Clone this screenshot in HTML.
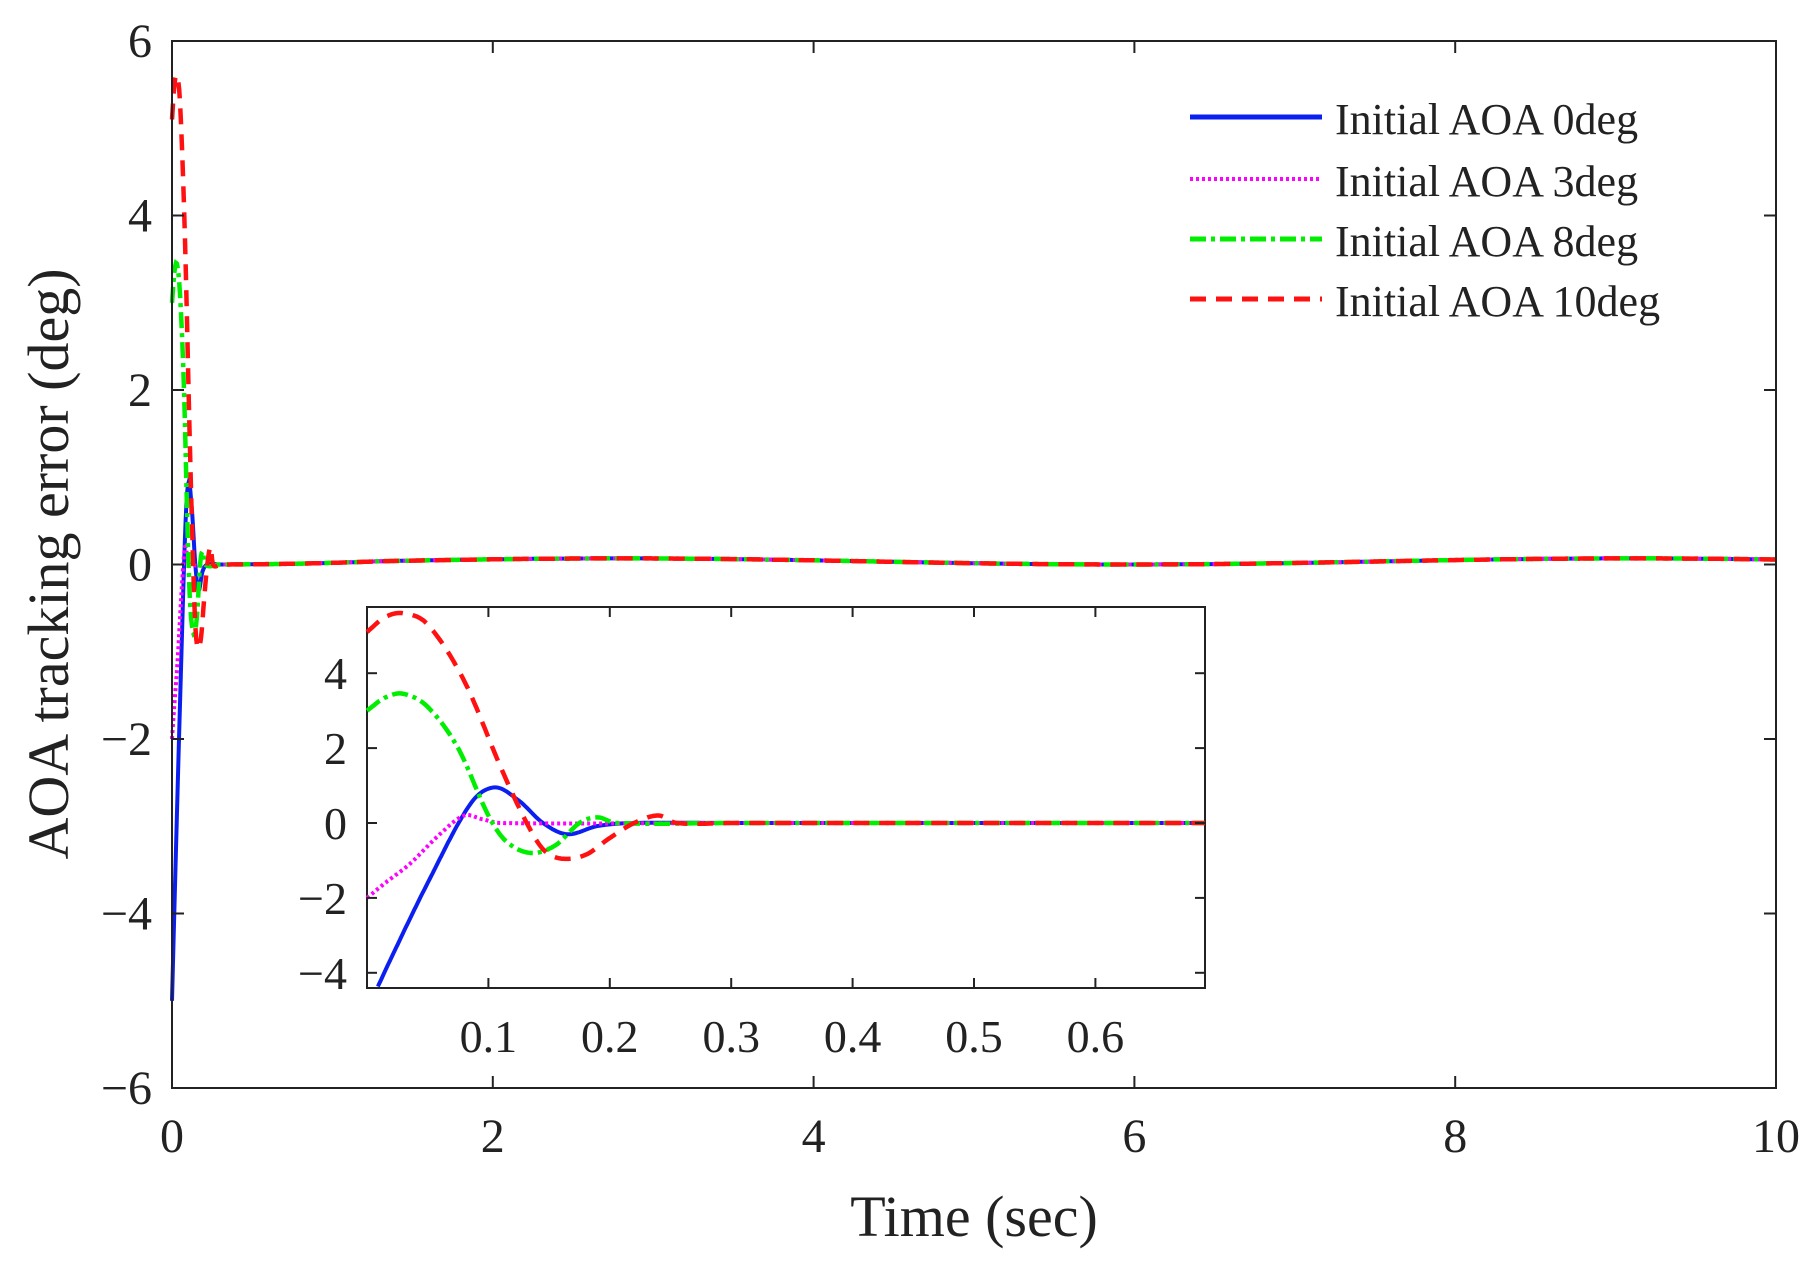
<!DOCTYPE html>
<html><head><meta charset="utf-8"><style>
html,body{margin:0;padding:0;background:#fff;}
svg{display:block;font-family:"Liberation Serif",serif;}
</style></head><body>
<svg id="s" width="1820" height="1266" viewBox="0 0 1820 1266" xmlns="http://www.w3.org/2000/svg">
<rect width="1820" height="1266" fill="#fff"/>
<g id="main"></g>
<rect x="367" y="607" width="838" height="381" fill="#fff" stroke="#222" stroke-width="2"/>
<g id="inset"></g>
<rect x="172" y="41" width="1604" height="1047" fill="none" stroke="#222" stroke-width="2"/>
<g id="ticks" fill="#222"></g>
<text x="974" y="1236" font-size="58" text-anchor="middle" fill="#222">Time (sec)</text>
<text transform="translate(68,564) rotate(-90)" font-size="58" text-anchor="middle" fill="#222">AOA tracking error (deg)</text>
<g font-size="44" fill="#222">
<line x1="1190" y1="117" x2="1322" y2="117" stroke="#0a1ff0" stroke-width="5"/>
<text x="1335" y="134">Initial AOA 0deg</text>
<line x1="1190" y1="179" x2="1322" y2="179" stroke="#f0f" stroke-width="4" stroke-dasharray="3,3"/>
<text x="1335" y="196">Initial AOA 3deg</text>
<line x1="1190" y1="239" x2="1322" y2="239" stroke="#0e0" stroke-width="5" stroke-dasharray="16,5,4,5"/>
<text x="1335" y="256">Initial AOA 8deg</text>
<line x1="1190" y1="299" x2="1322" y2="299" stroke="#f11" stroke-width="5" stroke-dasharray="16,10"/>
<text x="1335" y="316">Initial AOA 10deg</text>
</g>
</svg>
<script>
const NS="http://www.w3.org/2000/svg";
function el(p,tag,a,txt){const e=document.createElementNS(NS,tag);for(const k in a)e.setAttribute(k,a[k]);if(txt!==undefined)e.textContent=txt;document.getElementById(p).appendChild(e);return e;}
function interp(pts,t){if(t<=pts[0][0])return pts[0][1];for(let i=0;i<pts.length-1;i++){const a=pts[i],b=pts[i+1];if(t<=b[0]){const p0=pts[Math.max(0,i-1)],p3=pts[Math.min(pts.length-1,i+2)];const u=(t-a[0])/(b[0]-a[0]);const m1=(b[1]-p0[1])/(b[0]-p0[0])*(b[0]-a[0]);const m2=(p3[1]-a[1])/(p3[0]-a[0])*(b[0]-a[0]);const h00=2*u*u*u-3*u*u+1,h10=u*u*u-2*u*u+u,h01=-2*u*u*u+3*u*u,h11=u*u*u-u*u;return h00*a[1]+h10*m1+h01*b[1]+h11*m2;}}return pts[pts.length-1][1];}
const S={
b:[[0,-5],[0.02,-3.6],[0.05,-1.6],[0.085,0.5],[0.105,0.95],[0.125,0.6],[0.145,0],[0.165,-0.3],[0.19,-0.08],[0.22,0],[0.3,0]],
m:[[0,-2],[0.015,-1.6],[0.035,-1.1],[0.06,-0.3],[0.08,0.2],[0.095,0.1],[0.11,0],[0.3,0]],
g:[[0,3],[0.015,3.35],[0.03,3.45],[0.05,3.1],[0.075,2],[0.1,0.2],[0.115,-0.5],[0.135,-0.8],[0.155,-0.6],[0.175,0],[0.19,0.15],[0.205,0],[0.3,0]],
r:[[0,5.1],[0.015,5.5],[0.03,5.6],[0.05,5.3],[0.08,3.8],[0.11,1.5],[0.13,0.1],[0.145,-0.7],[0.16,-0.95],[0.18,-0.85],[0.2,-0.4],[0.22,0],[0.24,0.2],[0.255,0],[0.3,0]]};
const sty={b:{stroke:"#0a1ff0","stroke-width":4},m:{stroke:"#f0f","stroke-width":4,"stroke-dasharray":"3,3"},g:{stroke:"#0e0","stroke-width":4.5,"stroke-dasharray":"16,5,4,5"},r:{stroke:"#f11","stroke-width":4.5,"stroke-dasharray":"16,10"}};
function slow(t){return t<0.3?0:0.035*(1-Math.cos(2*Math.PI*(t+0.35)/6.3))*Math.min(1,(t-0.3)/1.0);}
const MY=v=>564.5-v*87.25;
// main
for(const k of ["b","m","g","r"]){let d="";for(let i=0;i<=2000;i++){const t=i/200;let v=t<0.3?interp(S[k],t):slow(t);const x=172+t*160.4,y=MY(v);d+=(i?"L":"M")+x.toFixed(1)+","+y.toFixed(1);}el("main","path",Object.assign({d:d,fill:"none"},sty[k]));}
// inset
for(const k of ["b","m","g","r"]){let d="";let started=false;for(let i=0;i<=690;i++){const t=i/1000;let v=interp(S[k],t);let y=823-v*37.45;if(y>988||y<607){continue;}const x=367+t*1214;d+=(started?"L":"M")+x.toFixed(1)+","+y.toFixed(1);started=true;}el("inset","path",Object.assign({d:d,fill:"none"},sty[k]));}
// main ticks
for(let i=0;i<=5;i++){const v=i*2,x=172+v*160.4;el("ticks","line",{x1:x,y1:1088,x2:x,y2:1076,stroke:"#222","stroke-width":2});el("ticks","line",{x1:x,y1:41,x2:x,y2:53,stroke:"#222","stroke-width":2});el("ticks","text",{x:x,y:1152,"font-size":48,"text-anchor":"middle"},String(v));}
for(let v=-6;v<=6;v+=2){const y=MY(v);el("ticks","line",{x1:172,y1:y,x2:184,y2:y,stroke:"#222","stroke-width":2});el("ticks","line",{x1:1776,y1:y,x2:1764,y2:y,stroke:"#222","stroke-width":2});el("ticks","text",{x:152,y:y+16,"font-size":48,"text-anchor":"end"},v<0?"\u2212"+(-v):String(v));}
// inset ticks
for(let i=1;i<=6;i++){const x=367+i*0.1*1214;el("ticks","line",{x1:x,y1:988,x2:x,y2:978,stroke:"#222","stroke-width":2});el("ticks","line",{x1:x,y1:607,x2:x,y2:617,stroke:"#222","stroke-width":2});el("ticks","text",{x:x,y:1052,"font-size":46,"text-anchor":"middle"},"0."+i);}
for(let v=-4;v<=4;v+=2){const y=823-v*37.45;el("ticks","line",{x1:367,y1:y,x2:377,y2:y,stroke:"#222","stroke-width":2});el("ticks","line",{x1:1205,y1:y,x2:1195,y2:y,stroke:"#222","stroke-width":2});el("ticks","text",{x:347,y:y+16,"font-size":46,"text-anchor":"end"},v<0?"\u2212"+(-v):String(v));}
</script>
</body></html>
